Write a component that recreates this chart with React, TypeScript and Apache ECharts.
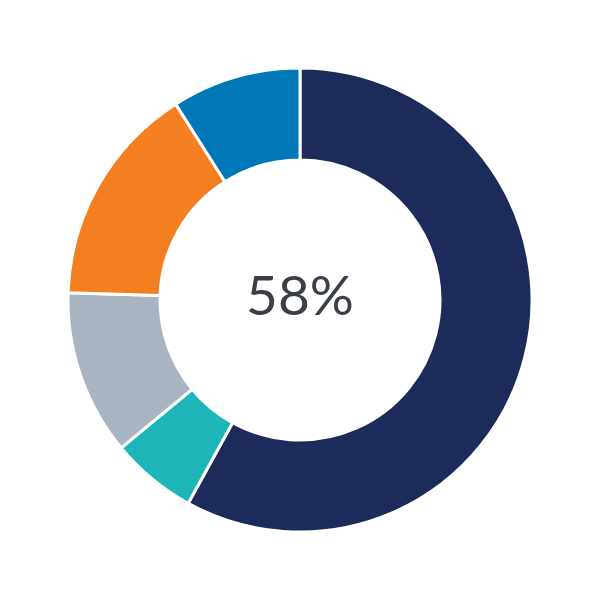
import { useEffect, useRef } from 'react'
import * as echarts from 'echarts'

const categories = ['Navy', 'Teal', 'Gray', 'Orange', 'Blue']
const values = [58, 6, 11.5, 15.5, 9]
const colors = ['#1c2b5a', '#1eb5b9', '#a9b4c2', '#f47f20', '#0077b6']
const centerLabel = '58%'

export default function App() {
  const elRef = useRef<HTMLDivElement | null>(null)

  useEffect(() => {
    document.body.style.margin = '0'
    if (!elRef.current) return
    const chart = echarts.init(elRef.current, null, { renderer: 'svg' })
    chart.setOption({
      animation: false,
      backgroundColor: '#ffffff',
      graphic: [
        {
          type: 'text',
          x: 300,
          y: 294,
          style: {
            text: centerLabel,
            fontFamily: 'Lato',
            fontSize: 55,
            fill: '#3a3f49',
            textAlign: 'center',
            textVerticalAlign: 'middle',
          },
        },
      ],
      series: [
        {
          type: 'pie',
          center: ['50%', '50%'],
          radius: [140, 232],
          startAngle: 90,
          clockwise: true,
          label: { show: false },
          labelLine: { show: false },
          emphasis: { disabled: true },
          itemStyle: { borderColor: '#ffffff', borderWidth: 3 },
          data: categories.map((name, i) => ({
            name,
            value: values[i],
            itemStyle: { color: colors[i] },
          })),
        },
      ],
    })
    return () => {
      chart.dispose()
    }
  }, [])

  return <div ref={elRef} style={{ width: 600, height: 600 }} />
}
